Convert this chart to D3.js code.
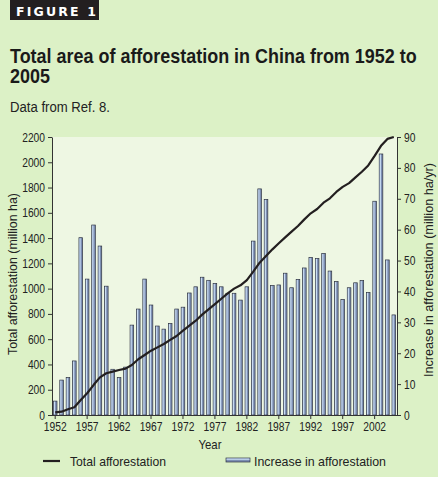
<!DOCTYPE html>
<html><head><meta charset="utf-8">
<script src="https://cdn.jsdelivr.net/npm/d3@7/dist/d3.min.js"></script>
<style>
html,body{margin:0;padding:0;background:#dcf1c6;}
svg{display:block;}
</style></head>
<body>
<svg id="chart" width="438" height="477"></svg>
<script>
const years = [1952,1953,1954,1955,1956,1957,1958,1959,1960,1961,
  1962,1963,1964,1965,1966,1967,1968,1969,1970,1971,
  1972,1973,1974,1975,1976,1977,1978,1979,1980,1981,
  1982,1983,1984,1985,1986,1987,1988,1989,1990,1991,
  1992,1993,1994,1995,1996,1997,1998,1999,2000,2001,
  2002,2003,2004,2005];
const increase = [4.5,11.3,12.1,17.5,57.4,44.0,61.5,54.7,41.7,14.8,
  12.1,15.5,29.1,34.3,44.0,35.6,28.8,27.8,29.6,34.3,
  34.9,39.5,41.5,44.6,43.6,42.6,41.5,39.4,39.4,37.2,
  41.5,56.3,73.2,69.8,41.9,42.1,45.9,41.2,43.9,47.6,
  51.0,50.7,52.3,46.6,43.2,37.4,41.2,42.8,43.5,39.7,
  69.2,84.5,50.2,32.4];
const total = [21,26,45,61,119,172,237,298,330,343,
  356,367,396,441,475,509,535,562,594,625,
  667,707,746,794,836,878,920,963,1000,1026,
  1068,1134,1205,1258,1311,1359,1406,1451,1496,1548,
  1596,1630,1680,1715,1765,1805,1835,1880,1925,1975,
  2050,2130,2185,2200];
const xTickYears = [1952,1957,1962,1967,1972,1977,1982,1987,1992,1997,2002];
const leftTicks = [0,200,400,600,800,1000,1200,1400,1600,1800,2000,2200];
const rightTicks = [0,10,20,30,40,50,60,70,80,90];

const FONT = "'Liberation Sans','Arial',sans-serif";
const svg = d3.select("#chart");
const L = 52, R = 397, T = 137, B = 415;

// horizontally condense text (simulate a narrow face)
function condense(sel, factor) {
  sel.each(function () {
    const len = this.getComputedTextLength();
    d3.select(this).attr("textLength", len * factor).attr("lengthAdjust", "spacingAndGlyphs");
  });
}
function fitTo(sel, target) {
  sel.attr("textLength", target).attr("lengthAdjust", "spacingAndGlyphs");
}

const x = d3.scaleBand().domain(years).range([L, R]).padding(0);
const yL = d3.scaleLinear().domain([0, 2200]).range([B, T]);
const yR = d3.scaleLinear().domain([0, 90]).range([B, T]);

// plot background
svg.append("rect").attr("x", L).attr("y", T).attr("width", R - L).attr("height", B - T).attr("fill", "#eef7e3");

// badge
svg.append("rect").attr("x", 10).attr("y", 0).attr("width", 89).attr("height", 20).attr("fill", "#231f20");
svg.append("text").attr("x", 16).attr("y", 15.5).attr("fill", "#fff")
  .attr("font-family", "'DejaVu Sans',sans-serif").attr("font-weight", "bold").attr("font-size", 12.5)
  .attr("textLength", 80).attr("lengthAdjust", "spacing").text("FIGURE 1");

// title (condensed via horizontal scale)
const tg = svg.append("g");
const t1 = tg.append("text").attr("x", 0).attr("y", 63).attr("font-family", FONT).attr("font-weight", "bold")
  .attr("font-size", 19.5).attr("fill", "#1a1a1a").text("Total area of afforestation in China from 1952 to");
tg.append("text").attr("x", 0).attr("y", 83.5).attr("font-family", FONT).attr("font-weight", "bold")
  .attr("font-size", 19.5).attr("fill", "#1a1a1a").text("2005");
const sx = 407 / t1.node().getComputedTextLength();
tg.attr("transform", `translate(10,0) scale(${sx},1)`);

const sub = svg.append("text").attr("x", 10).attr("y", 112).attr("font-family", FONT).attr("font-size", 14)
  .attr("fill", "#222").text("Data from Ref. 8.");
fitTo(sub, 100);

// bars
const bw = 3.6;
const bars = svg.append("g");
bars.selectAll("rect.bar").data(years).join("rect").attr("class", "bar")
  .attr("x", d => x(d) + (x.bandwidth() - bw) / 2)
  .attr("y", (d, i) => yR(increase[i]))
  .attr("width", bw)
  .attr("height", (d, i) => B - yR(increase[i]))
  .attr("fill", "#7d8fb4").attr("stroke", "#2e3340").attr("stroke-width", 0.7);
bars.selectAll("rect.hl").data(years).join("rect").attr("class", "hl")
  .attr("x", d => x(d) + (x.bandwidth() - bw) / 2 + 0.5)
  .attr("y", (d, i) => yR(increase[i]) + 0.5)
  .attr("width", 1.2)
  .attr("height", (d, i) => Math.max(0, B - yR(increase[i]) - 1))
  .attr("fill", "#c9dcf3");

// line
const line = d3.line().x((d, i) => x(years[i]) + x.bandwidth() / 2).y(d => yL(d));
svg.append("path").datum(total).attr("d", line).attr("fill", "none")
  .attr("stroke", "#231f20").attr("stroke-width", 2.2).attr("stroke-linejoin", "round");

// axes
function styleAxis(g) {
  g.selectAll("path,line").attr("stroke", "#333").attr("stroke-width", 1);
  g.selectAll("text").attr("font-family", FONT).attr("font-size", 12.5).attr("fill", "#222");
  condense(g.selectAll("text"), 0.82);
}
svg.append("g").attr("transform", `translate(${L},0)`)
  .call(d3.axisLeft(yL).tickValues(leftTicks).tickFormat(d3.format("d")).tickSize(4).tickSizeOuter(0).tickPadding(3))
  .call(styleAxis);
svg.append("g").attr("transform", `translate(${R},0)`)
  .call(d3.axisRight(yR).tickValues(rightTicks).tickFormat(d3.format("d")).tickSize(4).tickSizeOuter(0).tickPadding(3))
  .call(styleAxis);
const xa = svg.append("g").attr("transform", `translate(0,${B})`)
  .call(d3.axisBottom(x).tickValues(xTickYears).tickFormat(d3.format("d")).tickSize(4).tickSizeOuter(0).tickPadding(3))
  .call(styleAxis);
xa.select("path.domain").attr("d", `M${L},0.5H${R}`);

// axis titles
const ylab = svg.append("text").attr("transform", `translate(17,274) rotate(-90)`).attr("text-anchor", "middle")
  .attr("font-family", FONT).attr("font-size", 13).attr("fill", "#222").text("Total afforestation (million ha)");
fitTo(ylab, 162);
const yrlab = svg.append("text").attr("transform", `translate(433,270) rotate(-90)`).attr("text-anchor", "middle")
  .attr("font-family", FONT).attr("font-size", 13).attr("fill", "#222").text("Increase in afforestation (million ha/yr)");
fitTo(yrlab, 214);
const xlab = svg.append("text").attr("x", 210).attr("y", 449).attr("text-anchor", "middle")
  .attr("font-family", FONT).attr("font-size", 13).attr("fill", "#222").text("Year");
fitTo(xlab, 23);

// legend
svg.append("line").attr("x1", 43).attr("x2", 60).attr("y1", 461).attr("y2", 461)
  .attr("stroke", "#231f20").attr("stroke-width", 2.2);
const lg1 = svg.append("text").attr("x", 70).attr("y", 466).attr("font-family", FONT).attr("font-size", 13.5)
  .attr("fill", "#222").text("Total afforestation");
fitTo(lg1, 96);
svg.append("rect").attr("x", 226).attr("y", 458).attr("width", 24).attr("height", 4)
  .attr("fill", "#7d8fb4").attr("stroke", "#2e3340").attr("stroke-width", 0.7);
svg.append("rect").attr("x", 226.5).attr("y", 458.5).attr("width", 23).attr("height", 1.3).attr("fill", "#c9dcf3");
const lg2 = svg.append("text").attr("x", 254).attr("y", 466).attr("font-family", FONT).attr("font-size", 13.5)
  .attr("fill", "#222").text("Increase in afforestation");
fitTo(lg2, 132);
</script>
</body></html>
